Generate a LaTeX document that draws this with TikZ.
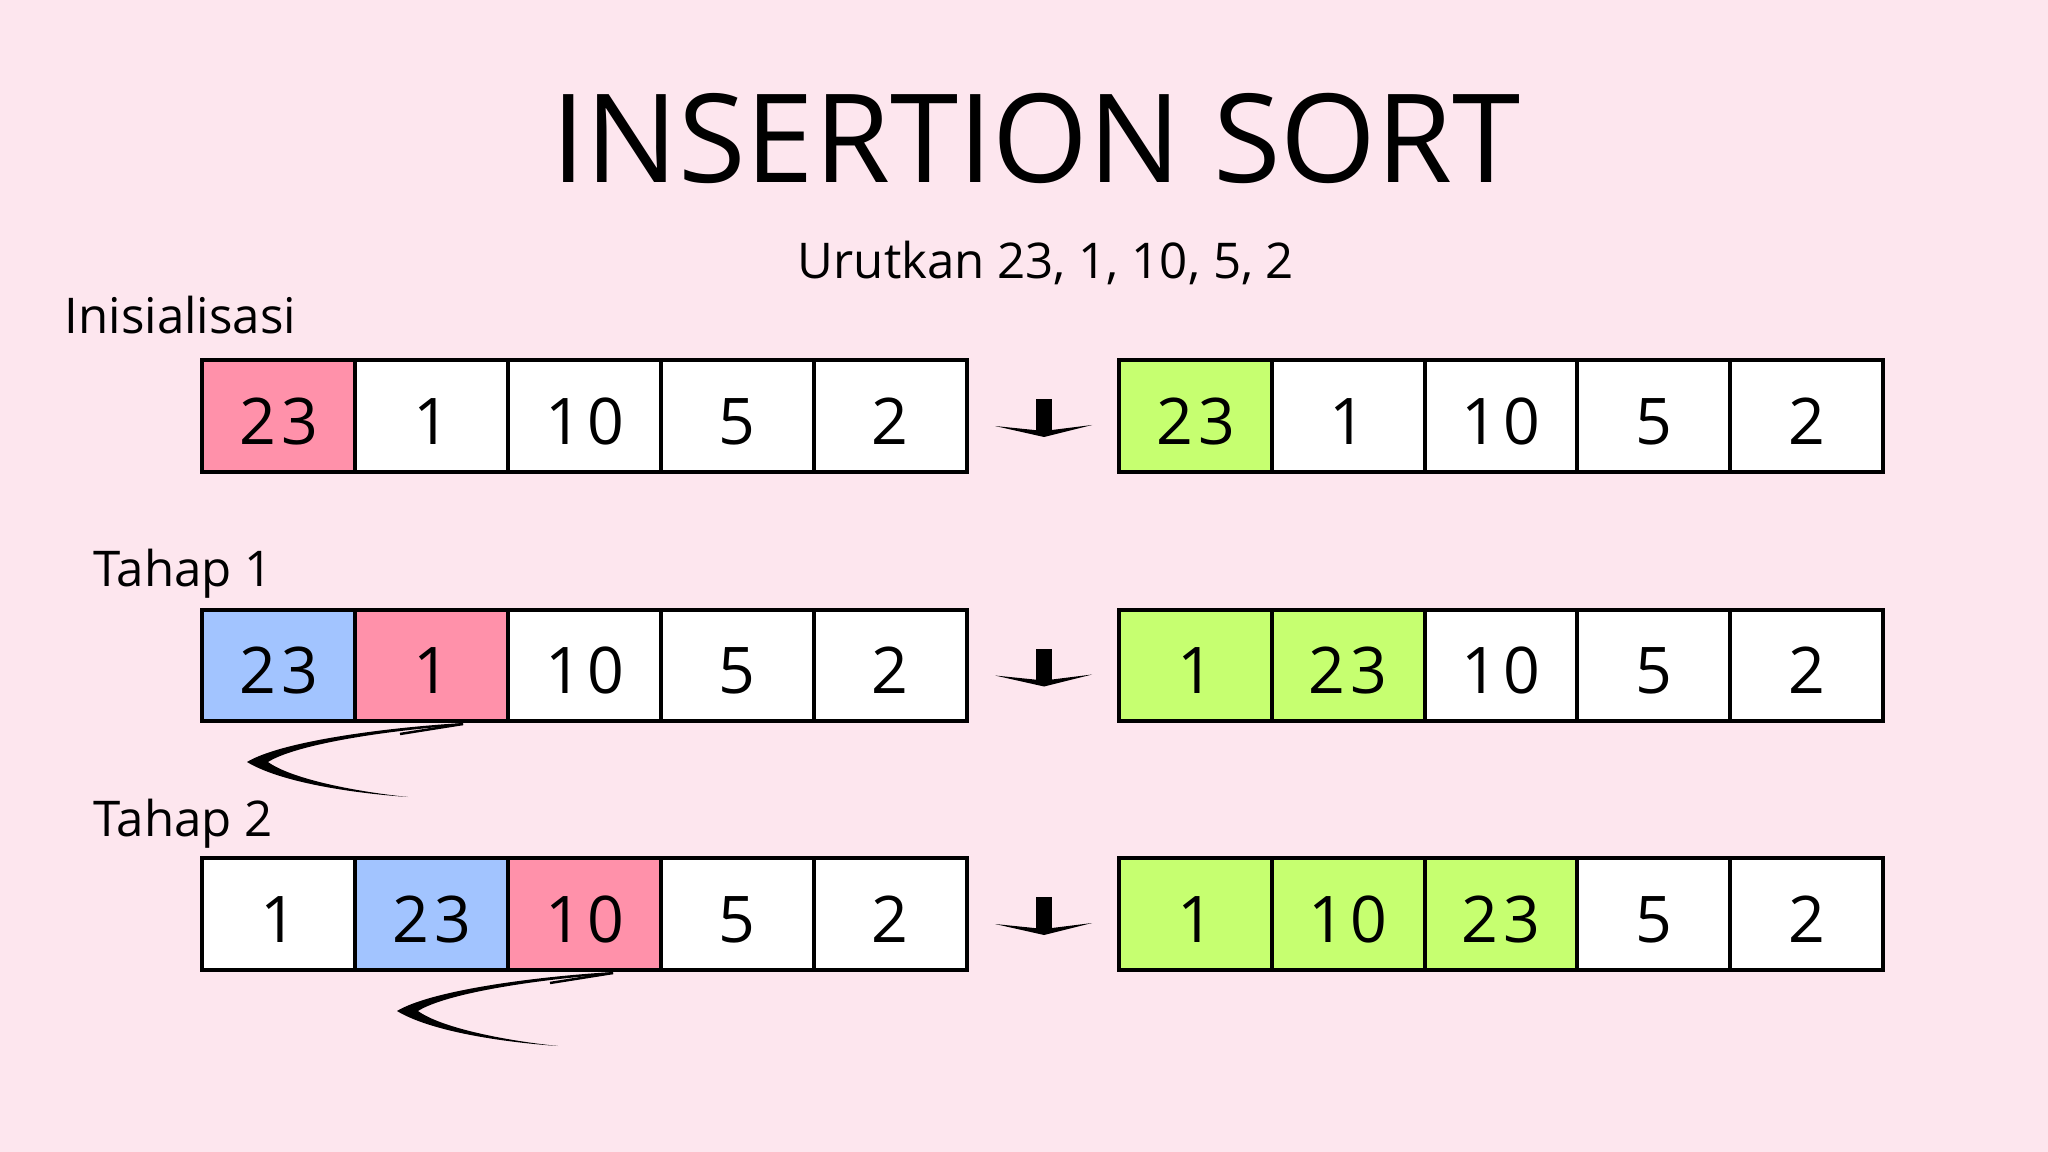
\documentclass[tikz,border=0pt]{standalone}
\usepackage{fontspec}
\setmainfont{Open Sans}
\newfontfamily\digitfont[LetterSpace=8]{Open Sans}
\definecolor{bg}{HTML}{FDE6EE}
\definecolor{pinkc}{HTML}{FF91AA}
\definecolor{bluec}{HTML}{A2C4FF}
\definecolor{greenc}{HTML}{C6FF70}
\begin{document}
\begin{tikzpicture}[x=0.01cm,y=-0.01cm,
  cell/.style={draw=black, line width=1.15pt, minimum width=1.528cm, minimum height=1.11cm,
    inner sep=0pt, text height=0.56cm, text depth=0pt,
    font=\digitfont\fontsize{18.3}{20}\selectfont, text=black},
  lbl/.style={anchor=base west, inner sep=0pt, font=\fontsize{14}{16}\selectfont},
  downarr/.pic={
    \fill[black] (-8,-17) rectangle (8,16);
    \fill[black] (-49,10) -- (0,21) -- (48,9) -- (0,15) -- cycle;
  },
  curvarrow/.pic={
    \fill[black] (463,723) .. controls (380,728) and (280,742) .. (247,762)
      .. controls (280,782) and (350,793) .. (408,797)
      .. controls (350,791) and (290,778) .. (268,762)
      .. controls (295,745) and (380,731) .. (463,725) -- cycle;
    \draw[line width=0.7pt] (463,724) -- (400,734);
  }]
\fill[bg] (0,0) rectangle (2048,1152);
\useasboundingbox (0,0) rectangle (2048,1152);

\node[anchor=base, inner sep=0pt, font=\fontsize{35}{40}\selectfont] (title) at (1036,183) {INSERTION SORT};
\node[anchor=base, inner sep=0pt, font=\fontsize{14}{16}\selectfont] (sub) at (1046,279) {Urutkan 23, 1, 10, 5, 2};
\node[lbl] (l0) at (64,334) {Inisialisasi};
\node[lbl] (l1) at (93,587) {Tahap 1};
\node[lbl] (l2) at (93,836) {Tahap 2};

% row 1
\foreach \val/\col [count=\i] in {23/pinkc,1/white,10/white,5/white,2/white}
  \node[cell,fill=\col] (a1-\i) at ({278.9+(\i-1)*152.8},416) {\val};
\foreach \val/\col [count=\i] in {23/greenc,1/white,10/white,5/white,2/white}
  \node[cell,fill=\col] (b1-\i) at ({1195.4+(\i-1)*152.8},416) {\val};
% row 2
\foreach \val/\col [count=\i] in {23/bluec,1/pinkc,10/white,5/white,2/white}
  \node[cell,fill=\col] (a2-\i) at ({278.9+(\i-1)*152.8},665.5) {\val};
\foreach \val/\col [count=\i] in {1/greenc,23/greenc,10/white,5/white,2/white}
  \node[cell,fill=\col] (b2-\i) at ({1195.4+(\i-1)*152.8},665.5) {\val};
% row 3
\foreach \val/\col [count=\i] in {1/white,23/bluec,10/pinkc,5/white,2/white}
  \node[cell,fill=\col] (a3-\i) at ({278.9+(\i-1)*152.8},914) {\val};
\foreach \val/\col [count=\i] in {1/greenc,10/greenc,23/greenc,5/white,2/white}
  \node[cell,fill=\col] (b3-\i) at ({1195.4+(\i-1)*152.8},914) {\val};

\pic at (1044,416) {downarr};
\pic at (1044,665.5) {downarr};
\pic at (1044,914) {downarr};

\pic at (0,0) {curvarrow};
\pic at (150,249) {curvarrow};
\end{tikzpicture}
\end{document}
